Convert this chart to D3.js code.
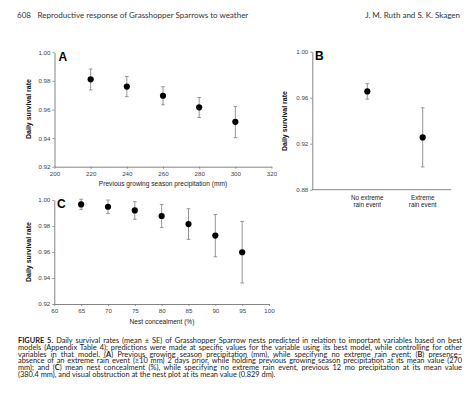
<!DOCTYPE html>
<html>
<head>
<meta charset="utf-8">
<script src="https://cdn.jsdelivr.net/npm/d3@7"></script>
<style>
  body { margin: 0; background: #fff; position: relative; }
  svg { display: block; }
  .tick text { font-family: "Liberation Sans", Arial, sans-serif; font-size: 6.2px; fill: #444; }
  #caption { position: absolute; left: 18px; top: 338.3px; width: 444px;
    font-family: Lato, "Open Sans", sans-serif; font-size: 7.4px; line-height: 6.65px; color: #1a1a1a; }
  #caption div { white-space: nowrap; text-align: justify; text-align-last: justify; }
  #caption div:last-child { text-align-last: left; }
</style>
</head>
<body>
<div id="chart"></div>
<div id="caption"></div>
<script>
// Panel A: previous growing season precipitation (mm)
var precipA = [220, 240, 260, 280, 300];
var meanA = [0.9811, 0.9760, 0.9696, 0.9615, 0.9514];
var lowA = [0.9737, 0.9690, 0.9633, 0.9544, 0.9403];
var highA = [0.9883, 0.9831, 0.9759, 0.9684, 0.9621];
var xTicksA = [200, 220, 240, 260, 280, 300, 320];
var yTicksA = [0.92, 0.94, 0.96, 0.98, 1.00];

// Panel B: extreme rain event
var rainB = ["No extreme rain event", "Extreme rain event"];
var meanB = [0.9655, 0.9255];
var lowB = [0.9588, 0.8998];
var highB = [0.9722, 0.9512];
var yTicksB = [0.88, 0.92, 0.96, 1.00];

// Panel C: nest concealment (%)
var coverC = [65, 70, 75, 80, 85, 90, 95];
var meanC = [0.9966, 0.9948, 0.9920, 0.9877, 0.9815, 0.9726, 0.9598];
var lowC = [0.9926, 0.9895, 0.9852, 0.9788, 0.9697, 0.9563, 0.9362];
var highC = [1.0006, 1.0000, 0.9987, 0.9966, 0.9933, 0.9888, 0.9835];
var xTicksC = [60, 65, 70, 75, 80, 85, 90, 95, 100];
var yTicksC = [0.92, 0.94, 0.96, 0.98, 1.00];

var W = 474, H = 395;
var axisCol = "#777", barCol = "#8a8a8a";

var svg = d3.select("#chart").append("svg")
  .attr("width", W).attr("height", H);

function rows(xs, m, lo, hi) {
  return xs.map(function(x, i) { return { x: x, m: m[i], lo: lo[i], hi: hi[i] }; });
}

function points(g, data, x, y) {
  var pt = g.selectAll("g.pt").data(data).join("g").attr("class", "pt");
  pt.append("line")
    .attr("x1", d => x(d.x)).attr("x2", d => x(d.x))
    .attr("y1", d => y(d.lo)).attr("y2", d => y(d.hi))
    .attr("stroke", barCol).attr("stroke-width", 0.9);
  ["lo", "hi"].forEach(function(k) {
    pt.append("line")
      .attr("x1", d => x(d.x) - 1.8).attr("x2", d => x(d.x) + 1.8)
      .attr("y1", d => y(d[k])).attr("y2", d => y(d[k]))
      .attr("stroke", barCol).attr("stroke-width", 0.9);
  });
  pt.append("circle")
    .attr("cx", d => x(d.x)).attr("cy", d => y(d.m))
    .attr("r", 3.1).attr("fill", "#000");
}

function styleAxis(g) {
  g.selectAll(".domain").attr("stroke", axisCol).attr("stroke-width", 0.9);
  g.selectAll(".tick line").attr("stroke", axisCol).attr("stroke-width", 0.8);
}

function yTitle(xPos, yMid) {
  svg.append("text")
    .attr("transform", "translate(" + xPos + "," + yMid + ") rotate(-90)")
    .attr("text-anchor", "middle")
    .attr("font-family", "Liberation Sans, Arial, sans-serif")
    .attr("font-weight", "bold").attr("font-size", 7).attr("fill", "#111")
    .text("Daily survival rate");
}

function letter(t, xPos, yPos) {
  svg.append("text").attr("x", xPos).attr("y", yPos)
    .attr("font-family", "Liberation Sans, Arial, sans-serif")
    .attr("font-weight", "bold").attr("font-size", 12).attr("fill", "#000")
    .text(t);
}

// ---- Panel A
var xA = d3.scaleLinear().domain([200, 320]).range([54.5, 271.5]);
var yA = d3.scaleLinear().domain([0.92, 1.00]).range([166.7, 52.3]);
var gA = svg.append("g");
gA.append("g").attr("transform", "translate(0," + yA(0.92) + ")")
  .call(d3.axisBottom(xA).tickValues(xTicksA).tickSize(2).tickPadding(3).tickSizeOuter(0))
  .call(styleAxis);
gA.append("g").attr("transform", "translate(" + xA(200) + ",0)")
  .call(d3.axisLeft(yA).tickValues(yTicksA).tickFormat(d3.format(".2f")).tickSize(2).tickPadding(2).tickSizeOuter(0))
  .call(styleAxis);
points(gA, rows(precipA, meanA, lowA, highA), xA, yA);
yTitle(31, 109);
letter("A", 58.5, 60.5);
svg.append("text").attr("x", 163).attr("y", 185.5).attr("text-anchor", "middle")
  .attr("font-family", "Liberation Sans, Arial, sans-serif").attr("font-size", 6.6).attr("fill", "#222")
  .text("Previous growing season precipitation (mm)");

// ---- Panel B
var xB = d3.scalePoint().domain(rainB).range([367.3, 422.7]);
var yB = d3.scaleLinear().domain([0.88, 1.00]).range([189.7, 51.7]);
var gB = svg.append("g");
gB.append("line").attr("x1", 312.3).attr("x2", 451).attr("y1", yB(0.88)).attr("y2", yB(0.88))
  .attr("stroke", axisCol).attr("stroke-width", 0.9);
gB.append("g").attr("transform", "translate(312.3,0)")
  .call(d3.axisLeft(yB).tickValues(yTicksB).tickFormat(d3.format(".2f")).tickSize(2).tickPadding(2).tickSizeOuter(0))
  .call(styleAxis);
points(gB, rows(rainB, meanB, lowB, highB), xB, yB);
yTitle(287, 121);
letter("B", 315, 59.5);
var labB = gB.selectAll("text.cat").data(rainB).join("text").attr("class", "cat")
  .attr("x", d => xB(d)).attr("y", 200)
  .attr("text-anchor", "middle")
  .attr("font-family", "Liberation Sans, Arial, sans-serif").attr("font-size", 6.3).attr("fill", "#222");
labB.append("tspan").attr("x", d => xB(d)).text(d => d.replace(/ rain event$/, ""));
labB.append("tspan").attr("x", d => xB(d)).attr("dy", 7.2).text("rain event");

// ---- Panel C
var xC = d3.scaleLinear().domain([60, 100]).range([54.3, 269]);
var yC = d3.scaleLinear().domain([0.92, 1.00]).range([304, 200]);
var gC = svg.append("g");
gC.append("g").attr("transform", "translate(0," + yC(0.92) + ")")
  .call(d3.axisBottom(xC).tickValues(xTicksC).tickSize(2).tickPadding(3).tickSizeOuter(0))
  .call(styleAxis);
gC.append("g").attr("transform", "translate(" + xC(60) + ",0)")
  .call(d3.axisLeft(yC).tickValues(yTicksC).tickFormat(d3.format(".2f")).tickSize(2).tickPadding(2).tickSizeOuter(0))
  .call(styleAxis);
points(gC, rows(coverC, meanC, lowC, highC), xC, yC);
yTitle(31, 252);
letter("C", 57, 207.5);
svg.append("text").attr("x", 162).attr("y", 323.5).attr("text-anchor", "middle")
  .attr("font-family", "Liberation Sans, Arial, sans-serif").attr("font-size", 6.6).attr("fill", "#222")
  .text("Nest concealment (%)");

// ---- running header
var headFont = "Lato, Open Sans, sans-serif";
svg.append("text").attr("x", 17).attr("y", 18).attr("font-family", headFont).attr("font-size", 8).attr("fill", "#333")
  .text("608");
svg.append("text").attr("x", 37.5).attr("y", 18).attr("font-family", headFont).attr("font-size", 8).attr("fill", "#333")
  .text("Reproductive response of Grasshopper Sparrows to weather");
svg.append("text").attr("x", 460).attr("y", 18).attr("text-anchor", "end").attr("font-family", headFont).attr("font-size", 8).attr("fill", "#333")
  .text("J. M. Ruth and S. K. Skagen");

// ---- caption: one justified block per printed line, bold runs marked with *
var captionLines = [
  "*FIGURE 5.* Daily survival rates (mean ± SE) of Grasshopper Sparrow nests predicted in relation to important variables based on best",
  "models (Appendix Table 4); predictions were made at specific values for the variable using its best model, while controlling for other",
  "variables in that model. (*A*) Previous growing season precipitation (mm), while specifying no extreme rain event; (*B*) presence–",
  "absence of an extreme rain event (≥10 mm) 2 days prior, while holding previous growing season precipitation at its mean value (270",
  "mm); and (*C*) mean nest concealment (%), while specifying no extreme rain event, previous 12 mo precipitation at its mean value",
  "(380.4 mm), and visual obstruction at the nest plot at its mean value (0.829 dm)."
];
var capLine = d3.select("#caption").selectAll("div").data(captionLines).join("div");
capLine.each(function(line) {
  var el = d3.select(this);
  line.split("*").forEach(function(part, j) {
    if (!part) return;
    el.append(j % 2 ? "b" : "span").text(part);
  });
});
</script>
</body>
</html>
